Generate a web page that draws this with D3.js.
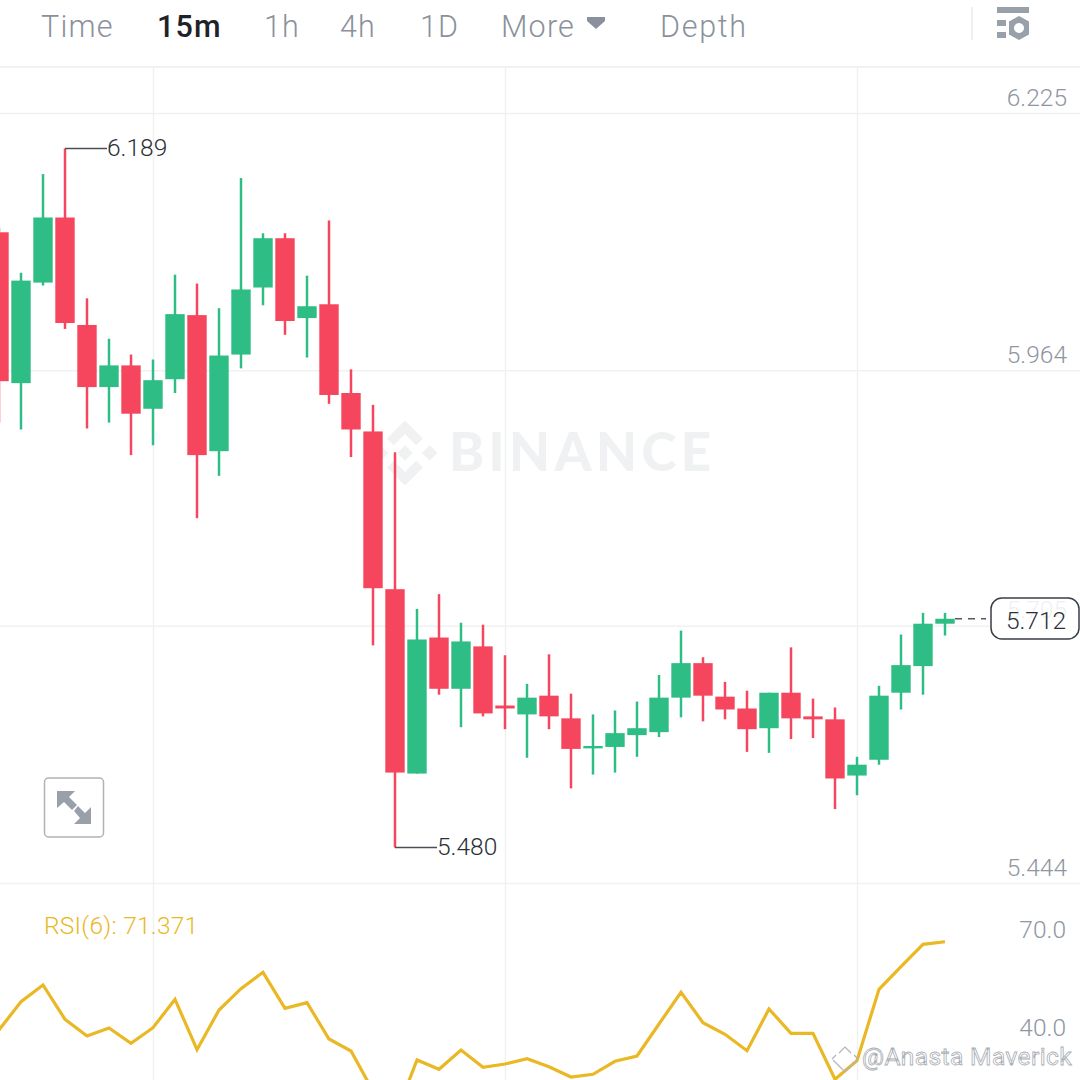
<!DOCTYPE html>
<html><head><meta charset="utf-8">
<style>html,body{margin:0;padding:0;background:#fff;overflow:hidden}svg{display:block}text{font-family:Roboto,sans-serif}</style>
<script src="https://cdn.jsdelivr.net/npm/d3@7/dist/d3.min.js"></script></head><body>
<script>
const opens =[6.104,5.951,6.053,6.119,6.010,5.947,5.969,5.925,5.955,6.020,5.882,5.980,6.048,6.098,6.017,6.031,5.941,5.902,5.742,5.555,5.693,5.641,5.684,5.624,5.615,5.634,5.611,5.581,5.582,5.594,5.597,5.632,5.667,5.633,5.621,5.601,5.637,5.613,5.610,5.553,5.569,5.637,5.664,5.707];
const closes=[5.953,6.055,6.119,6.012,5.947,5.969,5.920,5.954,6.021,5.878,5.979,6.046,6.098,6.014,6.029,5.939,5.904,5.743,5.556,5.691,5.641,5.689,5.616,5.621,5.632,5.613,5.580,5.583,5.596,5.601,5.632,5.667,5.634,5.620,5.600,5.637,5.611,5.610,5.550,5.564,5.634,5.665,5.707,5.712];
const highs =[6.108,6.063,6.163,6.189,6.037,5.996,5.980,5.975,6.061,6.052,6.027,6.159,6.103,6.103,6.060,6.116,5.965,5.929,5.881,5.722,5.737,5.708,5.706,5.675,5.646,5.676,5.636,5.615,5.619,5.628,5.655,5.700,5.673,5.648,5.639,5.637,5.683,5.631,5.622,5.572,5.644,5.696,5.718,5.718];
const lows  =[5.911,5.904,6.050,6.006,5.905,5.911,5.878,5.888,5.941,5.814,5.857,5.966,6.030,6.000,5.977,5.930,5.876,5.685,5.480,5.555,5.635,5.602,5.613,5.600,5.571,5.600,5.540,5.554,5.556,5.572,5.592,5.612,5.608,5.610,5.577,5.576,5.590,5.591,5.519,5.533,5.564,5.620,5.635,5.695];
const rsi   =[44.35,53.01,58.12,47.62,42.51,44.96,40.28,45.05,53.75,38.32,50.47,56.99,62.01,50.99,52.71,41.59,37.92,25.68,17.72,35.17,32.32,38.23,32.93,33.94,35.56,33.11,29.96,30.79,34.77,36.39,46.19,55.89,46.58,43.03,38.01,50.78,43.34,43.34,29.26,34.95,56.81,63.72,70.58,71.371];
const priceTicks=[6.225,5.964,5.705,5.444];
const rsiTicks=[70,40];
const gridIndex=[7,23,39];
const tabs=["Time","15m","1h","4h","1D","More","Depth"];
const tabX=[41,157,264,340,420,501,660];
const highLabel=6.189, lowLabel=5.480, lastPrice=5.712;

const GREEN="#2EBD85",RED="#F6465D",GRID="#f0f1f3",GREY="#8f96a1",DARK="#2b2f36",GOLD="#E9B824";
const svg=d3.select("body").append("svg").attr("width",1080).attr("height",1080);
const x=d3.scaleLinear().domain([0,43]).range([-1,945]);
const y=d3.scaleLinear().domain([5.444,6.225]).range([883,113]);
const yR=d3.scaleLinear().domain([40,70]).range([1044.2,946.2]);

// header rule
svg.append("line").attr("x1",0).attr("x2",1080).attr("y1",67).attr("y2",67).attr("stroke","#f0f1f3").attr("stroke-width",2);

// grid, drawn by axes
const gy=svg.append("g").call(d3.axisLeft(y).tickValues(priceTicks).tickSize(-1080).tickFormat(""));
gy.select(".domain").remove();
gy.selectAll("line").attr("stroke",GRID).attr("stroke-width",1.5);
const gx=svg.append("g").attr("transform","translate(0,1080)").call(d3.axisTop(x).tickValues(gridIndex).tickSize(1012).tickFormat(""));
gx.select(".domain").remove();
gx.selectAll("line").attr("stroke",GRID).attr("stroke-width",1.5);

// BINANCE watermark
const wm=svg.append("g").attr("fill","#f0f1f2");
wm.append("text").attr("x",449).attr("y",471).attr("font-size",53).attr("font-weight",900).attr("letter-spacing",4.4).text("BINANCE").style("font-family","Lato,Roboto,sans-serif");
const logo=wm.append("g").attr("transform","translate(405,453) scale(1.12)");
logo.append("path").attr("d","M-10,-7 L0,-17 L10,-7 L16,-13 L0,-29 L-16,-13 Z");
logo.append("path").attr("d","M-10,7 L0,17 L10,7 L16,13 L0,29 L-16,13 Z");
logo.append("path").attr("d","M-7,0 L0,-7 L7,0 L0,7 Z");
logo.append("path").attr("d","M-29,0 L-22,-7 L-15,0 L-22,7 Z");
logo.append("path").attr("d","M29,0 L22,-7 L15,0 L22,7 Z");

// candles
const idx=d3.range(opens.length);
const col=i=>closes[i]>=opens[i]?GREEN:RED;
svg.append("g").selectAll("line").data(idx).join("line")
 .attr("x1",i=>x(i)).attr("x2",i=>x(i)).attr("y1",i=>y(highs[i])).attr("y2",i=>y(lows[i]))
 .attr("stroke",col).attr("stroke-width",2.5);
svg.append("g").selectAll("rect").data(idx).join("rect")
 .attr("x",i=>x(i)-9.7).attr("width",19.4)
 .attr("y",i=>y(Math.max(opens[i],closes[i])))
 .attr("height",i=>Math.max(2.4,Math.abs(y(opens[i])-y(closes[i]))))
 .attr("fill",col);

// price axis labels (sit above their gridline)
const ay=svg.append("g").attr("transform","translate(1067,0)").call(d3.axisLeft(y).tickValues(priceTicks).tickSize(0).tickPadding(0).tickFormat(d3.format(".3f")));
ay.select(".domain").remove();
ay.selectAll("text").attr("fill",GREY).attr("font-size",24.5).attr("font-weight",300).attr("dy",-16+8);

// high/low markers
function marker(i,p,label){
  svg.append("line").attr("x1",x(i)).attr("x2",x(i)+42).attr("y1",y(p)).attr("y2",y(p)).attr("stroke","#4a4f57").attr("stroke-width",1.5);
  svg.append("text").attr("x",x(i)+42).attr("y",y(p)+7.5).attr("font-size",24.5).attr("font-weight",300).attr("fill",DARK).text(label);
}
marker(highs.indexOf(highLabel),highLabel,d3.format(".3f")(highLabel));
marker(lows.indexOf(lowLabel),lowLabel,d3.format(".3f")(lowLabel));

// last price
svg.append("line").attr("x1",x(43)+10).attr("x2",986).attr("y1",y(lastPrice)).attr("y2",y(lastPrice)).attr("stroke","#555a62").attr("stroke-width",1.5).attr("stroke-dasharray","7 6");
svg.append("rect").attr("x",991).attr("y",598).attr("width",88).attr("height",41).attr("rx",11).attr("fill","#fff").attr("fill-opacity",0.85).attr("stroke","#3a3f47").attr("stroke-width",1.5);
svg.append("text").attr("x",1036).attr("y",629).attr("text-anchor","middle").attr("font-size",24.5).attr("font-weight",300).attr("fill",DARK).text(d3.format(".3f")(lastPrice));

// rsi
svg.append("path").datum(idx).attr("fill","none").attr("stroke",GOLD).attr("stroke-width",3.2).attr("stroke-linejoin","miter")
 .attr("d",d3.line().x(i=>x(i)).y(i=>yR(rsi[i])));
svg.append("text").attr("x",44).attr("y",934).attr("font-size",24.5).attr("fill",GOLD).attr("font-weight",300).attr("letter-spacing",0.25).text("RSI(6): "+d3.format(".3f")(rsi[rsi.length-1]));
const ar=svg.append("g").attr("transform","translate(1066,0)").call(d3.axisLeft(yR).tickValues(rsiTicks).tickSize(0).tickPadding(0).tickFormat(d3.format(".1f")));
ar.select(".domain").remove();
ar.selectAll("text").attr("fill",GREY).attr("font-size",24.5).attr("font-weight",300).attr("dy",-17+8);

// header
svg.append("g").selectAll("text").data(tabs).join("text")
 .attr("x",(d,i)=>tabX[i]).attr("y",37).attr("font-size",30.5)
 .attr("letter-spacing",d=>d==="Depth"?1.7:1.2)
 .attr("fill",d=>d==="15m"?"#1e2329":"#8b919c")
 .attr("font-weight",d=>d==="15m"?500:300).text(d=>d);
svg.append("path").attr("d","M587,17 L605,17 L605,21 L596,29 L587,21 Z").attr("fill","#8b919c");
svg.append("line").attr("x1",972).attr("x2",972).attr("y1",7).attr("y2",40).attr("stroke","#eceef0").attr("stroke-width",2);
const ic=svg.append("g").attr("fill","#98a0aa");
ic.append("rect").attr("x",997).attr("y",7).attr("width",32).attr("height",6);
ic.append("rect").attr("x",997).attr("y",20).attr("width",9).attr("height",6);
ic.append("rect").attr("x",997).attr("y",32).attr("width",9).attr("height",6);
ic.append("path").attr("fill-rule","evenodd").attr("d","M1019,16 L1029,21.5 L1029,34.5 L1019,40 L1009,34.5 L1009,21.5 Z M1019,23 a5,5 0 1,0 0.01,0 Z");

// expand button
svg.append("rect").attr("x",44.5).attr("y",778).attr("width",59).attr("height",59).attr("rx",4).attr("fill","#fff").attr("stroke","#aeb2b9").attr("stroke-width",1.5);
const ex=svg.append("g").attr("fill","#9aa0aa");
ex.append("path").attr("d","M57,791 L75,791 L69,797 L77,805 L72,810 L64,802 L57,808 Z");
ex.append("path").attr("d","M91,824 L74,824 L80,818 L74,811 L78,806 L85,813 L91,807 Z");

// signature watermark
svg.append("text").attr("x",862).attr("y",1065).attr("font-size",24.5).attr("fill","#fff").attr("stroke","#a9adb3").attr("stroke-width",0.8).attr("letter-spacing",0.4).text("@Anasta Maverick");
const s=svg.append("g").attr("transform","translate(845,1058)").attr("fill","none").attr("stroke","#b0b4ba").attr("stroke-width",1.2);
s.append("path").attr("d","M-6,-5 L0,-11 L6,-5 M-13,1 L-9,-3 M13,1 L9,-3 M-12,2 L0,14 L12,2");
</script></body></html>
